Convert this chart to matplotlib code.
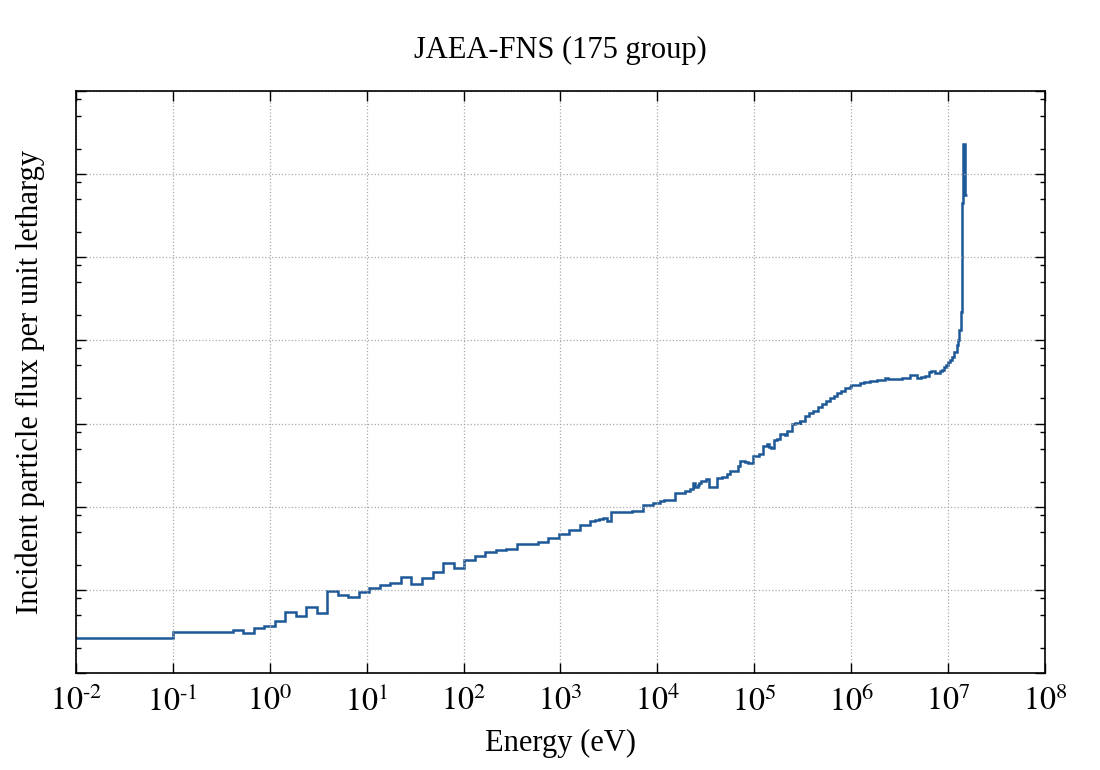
import numpy as np
import matplotlib
matplotlib.use("Agg")
import matplotlib.pyplot as plt
from matplotlib.ticker import LogLocator, FixedLocator, NullLocator, NullFormatter, FuncFormatter

plt.rcParams['font.family'] = 'serif'
plt.rcParams['font.serif'] = ['Liberation Serif', 'DejaVu Serif']
plt.rcParams['mathtext.fontset'] = 'stix'

# group boundaries (eV), 175-group structure, cut where the flux goes to zero
edges = [
    1e-5, 0.1, 0.41399, 0.53158, 0.68256, 0.87642, 1.1254, 1.4450, 1.8554, 2.3824,
    3.0590, 3.9279, 5.0435, 6.4760, 8.3153, 10.677, 13.710, 17.603, 22.603, 29.023,
    37.267, 47.851, 61.442, 78.893, 101.30, 130.07, 167.02, 214.45, 275.36, 353.57,
    453.99, 582.95, 748.52, 961.12, 1234.1, 1584.6, 2034.7, 2248.7, 2485.2, 2612.6,
    2746.5, 3035.4, 3354.6, 4307.4, 5530.8, 7101.7, 9118.8, 10595, 11709, 15034,
    19305, 21875, 23579, 24176, 24788, 26058, 27000, 28501, 31828, 34307,
    40868, 46309, 52475, 56562, 67379, 72000, 79500, 82500, 86517, 98037,
    111090, 116740, 122770, 129280, 135340, 141500, 150300, 161630, 172340, 183160,
    194950, 208750, 218170, 228030, 247240, 260580, 273240, 282740, 294500, 297210,
    298500, 301970, 333730, 368830, 387240, 407620, 450490, 497870, 523400, 550230,
    578440, 608100, 639280, 672060, 706510, 742740, 780820, 820850, 862940, 907180,
    961640, 1.0026e6, 1.1080e6, 1.1648e6, 1.2246e6, 1.2873e6, 1.3534e6, 1.4227e6, 1.4957e6, 1.5724e6,
    1.6530e6, 1.7377e6, 1.8268e6, 1.9205e6, 2.0190e6, 2.1225e6, 2.2313e6, 2.3069e6, 2.3457e6, 2.3653e6,
    2.3851e6, 2.4660e6, 2.5924e6, 2.7253e6, 2.8650e6, 3.0119e6, 3.1664e6, 3.3287e6, 3.6788e6, 4.0657e6,
    4.4933e6, 4.7237e6, 4.9659e6, 5.2205e6, 5.4881e6, 5.7695e6, 6.0653e6, 6.3763e6, 6.5924e6, 6.7032e6,
    7.0469e6, 7.4082e6, 7.7880e6, 8.1873e6, 8.6071e6, 9.0484e6, 9.5123e6, 1.0000e7, 1.0513e7, 1.1052e7,
    1.1618e7, 1.2214e7, 1.2523e7, 1.2840e7, 1.3499e7, 1.3840e7, 1.4191e7, 1.4550e7, 1.4918e7, 1.5683e7,
]

# flux per unit lethargy, arbitrary units
flux = [
    2.66e-7, 3.14e-7, 3.26e-7, 3.05e-7, 3.48e-7, 3.65e-7, 4.22e-7, 5.37e-7, 4.85e-7, 6.22e-7,
    5.31e-7, 9.61e-7, 8.75e-7, 8.27e-7, 9.35e-7, 1.06e-6, 1.15e-6, 1.20e-6, 1.44e-6, 1.18e-6,
    1.37e-6, 1.65e-6, 2.10e-6, 1.83e-6, 2.29e-6, 2.53e-6, 2.85e-6, 3.04e-6, 3.06e-6, 3.56e-6,
    3.56e-6, 3.80e-6, 4.24e-6, 4.66e-6, 5.25e-6, 6.08e-6, 6.79e-6, 6.92e-6, 7.18e-6, 7.06e-6,
    7.32e-6, 6.68e-6, 8.71e-6, 8.57e-6, 8.96e-6, 1.04e-5, 1.12e-5, 1.18e-5, 1.20e-5, 1.47e-5,
    1.55e-5, 1.62e-5, 1.95e-5, 1.71e-5, 1.71e-5, 1.81e-5, 1.93e-5, 2.06e-5, 2.15e-5, 1.74e-5,
    2.20e-5, 2.30e-5, 2.45e-5, 2.71e-5, 3.09e-5, 3.58e-5, 3.48e-5, 3.48e-5, 3.33e-5, 4.07e-5,
    4.34e-5, 4.34e-5, 5.42e-5, 5.42e-5, 5.73e-5, 5.16e-5, 5.09e-5, 6.35e-5, 6.56e-5, 7.45e-5,
    7.45e-5, 7.29e-5, 8.03e-5, 8.05e-5, 9.80e-5, 1.008e-4, 1.008e-4, 1.008e-4, 1.074e-4, 9.88e-5,
    1.074e-4, 1.074e-4, 1.244e-4, 1.351e-4, 1.351e-4, 1.428e-4, 1.596e-4, 1.706e-4, 1.706e-4, 1.853e-4,
    1.853e-4, 2.048e-4, 2.048e-4, 2.164e-4, 2.313e-4, 2.313e-4, 2.466e-4, 2.466e-4, 2.656e-4, 2.656e-4,
    2.754e-4, 2.871e-4, 2.911e-4, 2.911e-4, 3.051e-4, 3.06e-4, 3.119e-4, 3.189e-4, 3.189e-4, 3.20e-4,
    3.279e-4, 3.279e-4, 3.343e-4, 3.343e-4, 3.343e-4, 3.343e-4, 3.504e-4, 3.504e-4, 3.504e-4, 3.504e-4,
    3.408e-4, 3.408e-4, 3.437e-4, 3.437e-4, 3.437e-4, 3.408e-4, 3.408e-4, 3.563e-4, 3.563e-4, 3.84e-4,
    3.84e-4, 3.563e-4, 3.563e-4, 3.663e-4, 3.663e-4, 3.735e-4, 3.735e-4, 4.207e-4, 4.207e-4, 4.289e-4,
    4.289e-4, 4.093e-4, 4.093e-4, 4.289e-4, 4.41e-4, 4.79e-4, 5.07e-4, 5.51e-4, 5.82e-4, 6.32e-4,
    7.26e-4, 8.81e-4, 1.012e-3, 1.336e-3, 2.198e-3, 4.50e-2, 0.2306, 0.2306, 5.614e-2,
]

# decades shown on the energy axis
x_decades = [1e-2, 1e-1, 1e0, 1e1, 1e2, 1e3, 1e4, 1e5, 1e6, 1e7, 1e8]


def pow10_label(v, pos):
    # superscript with a plain hyphen, like the original
    e = int(round(np.log10(v)))
    if e < 0:
        return r'$10^{\text{-%d}}$' % (-e)
    return r'$10^{%d}$' % e


fig = plt.figure(figsize=(11, 7.7), dpi=100)
ax = fig.add_axes([0.069, 0.126, 0.881, 0.756])

ax.stairs(flux, edges, baseline=None, color='#1d5898', linewidth=1.8)

ax.set_xscale('log')
ax.set_yscale('log')
ax.set_xlim(x_decades[0], x_decades[-1])
ax.set_ylim(1e-7, 1e0)

ax.xaxis.set_major_locator(FixedLocator(x_decades))
ax.xaxis.set_major_formatter(FuncFormatter(pow10_label))
ax.xaxis.set_minor_locator(NullLocator())
ax.yaxis.set_major_locator(LogLocator(base=10, numticks=20))
ax.yaxis.set_minor_locator(LogLocator(base=10, subs=(2, 5, 8), numticks=20))
ax.yaxis.set_minor_formatter(NullFormatter())

ax.tick_params(which='both', direction='in', top=True, right=True, labelleft=False)
ax.tick_params(which='major', length=7, width=1, labelsize=23, pad=10)
ax.tick_params(which='minor', length=3.5, width=1)
for s in ax.spines.values():
    s.set_linewidth(1.2)

ax.grid(True, which='major', linestyle=':', color='#aaaaaa', linewidth=0.9)

ax.set_title('JAEA-FNS (175 group)', fontsize=22, pad=24)
ax.set_xlabel('Energy (eV)', fontsize=22, labelpad=8)
ax.set_ylabel('Incident particle flux per unit lethargy', fontsize=22, labelpad=22)

fig.savefig('out.png', dpi=100)
